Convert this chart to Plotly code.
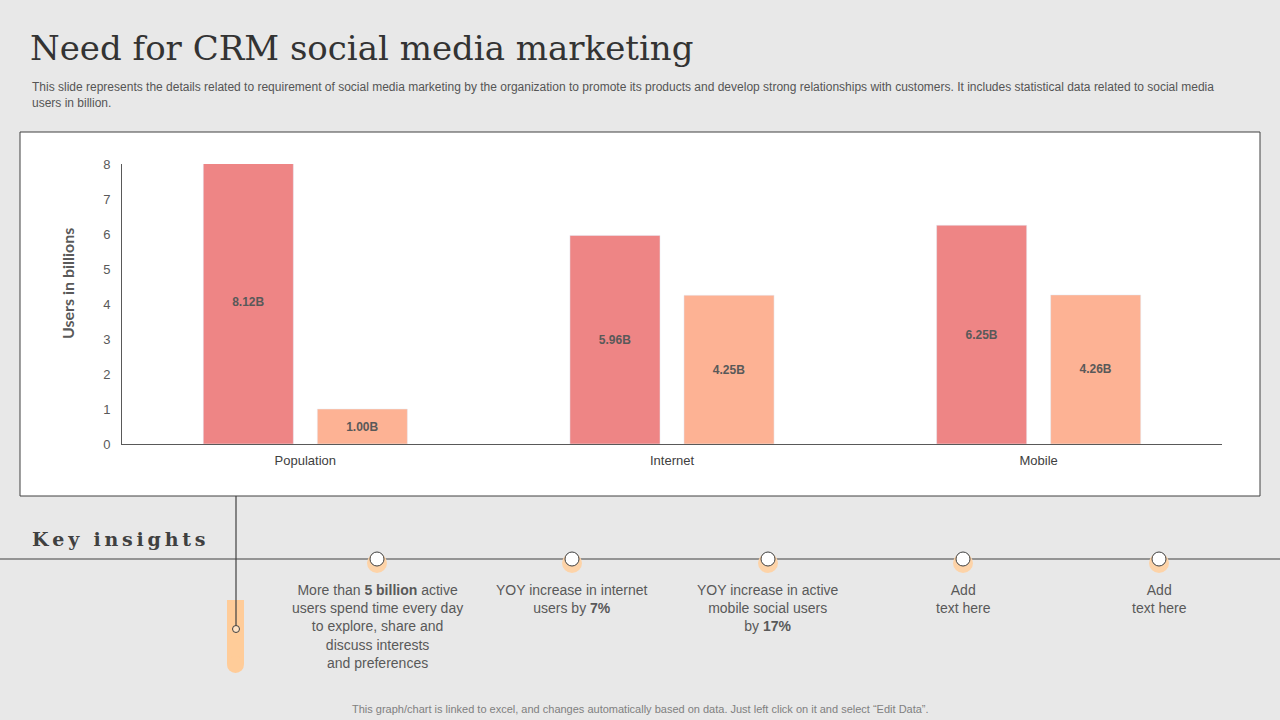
import plotly.graph_objects as go

# ---------------- data ----------------
categories = ["Population", "Internet", "Mobile"]
series_a = [8.12, 5.96, 6.25]
series_b = [1.00, 4.25, 4.26]
y_ticks = [0, 1, 2, 3, 4, 5, 6, 7, 8]

insight_texts = [
    "More than <b>5 billion</b> active<br>users spend time every day<br>to explore, share and<br>discuss interests<br>and preferences",
    "YOY increase in internet<br>users by <b>7%</b>",
    "YOY increase in active<br>mobile social users<br>by <b>17%</b>",
    "Add<br>text here",
    "Add<br>text here",
]

W, H = 1280, 720
def px(x):
    return x / W
def py(y):
    return 1 - y / H

BG = "#E8E8E8"
C_A = "#EE8585"
C_B = "#FDB294"
TXT = "#595959"

fig = go.Figure()
fig.add_trace(go.Bar(
    x=categories, y=series_a, marker_color=C_A,
    text=[f"{v:.2f}B" for v in series_a], textposition="inside",
    insidetextanchor="middle", textangle=0,
    textfont=dict(family="Liberation Sans", size=12, color=TXT, weight="bold"),
    hoverinfo="skip", showlegend=False,
))
fig.add_trace(go.Bar(
    x=categories, y=series_b, marker_color=C_B,
    text=[f"{v:.2f}B" for v in series_b], textposition="inside",
    insidetextanchor="middle", textangle=0,
    textfont=dict(family="Liberation Sans", size=12, color=TXT, weight="bold"),
    hoverinfo="skip", showlegend=False,
))

shapes = []
shapes.append(dict(type="rect", xref="paper", yref="paper", layer="below",
                   x0=px(20), x1=px(1260), y0=py(496), y1=py(132),
                   fillcolor="white", line=dict(color="#404040", width=1)))
shapes.append(dict(type="line", xref="paper", yref="paper",
                   x0=0, x1=1, y0=py(559), y1=py(559),
                   line=dict(color="#404040", width=1.2)))
shapes.append(dict(type="rect", xref="paper", yref="paper",
                   x0=px(227), x1=px(244), y0=py(664), y1=py(600),
                   fillcolor="#FFCC99", line=dict(width=0)))
shapes.append(dict(type="circle", xref="paper", yref="paper",
                   x0=px(227), x1=px(244), y0=py(673), y1=py(656),
                   fillcolor="#FFCC99", line=dict(width=0)))
shapes.append(dict(type="line", xref="paper", yref="paper",
                   x0=px(236), x1=px(236), y0=py(496), y1=py(626),
                   line=dict(color="#404040", width=1.2)))
shapes.append(dict(type="circle", xref="paper", yref="paper",
                   x0=px(232.5), x1=px(239.5), y0=py(632.5), y1=py(625.5),
                   fillcolor="#FFE2C4", line=dict(color="#404040", width=1)))

insight_x = [377, 572, 768, 963, 1159]
for cx in insight_x:
    shapes.append(dict(type="circle", xref="paper", yref="paper",
                       x0=px(cx - 10), x1=px(cx + 10), y0=py(573), y1=py(553),
                       fillcolor="#FDD3A8", line=dict(width=0)))
    shapes.append(dict(type="circle", xref="paper", yref="paper",
                       x0=px(cx - 7), x1=px(cx + 7), y0=py(566), y1=py(552),
                       fillcolor="white", line=dict(color="#404040", width=1)))

ts = "\u2009"
key_title = ts.join("Key") + ts + " " + ts + ts.join("insights")

annotations = []
annotations.append(dict(xref="paper", yref="paper", x=px(28), y=py(48),
                        xanchor="left", yanchor="middle", showarrow=False,
                        text="Need for CRM social media marketing",
                        font=dict(family="DejaVu Serif", size=34, color="#333333")))
annotations.append(dict(xref="paper", yref="paper", x=px(30), y=py(78),
                        xanchor="left", yanchor="top", showarrow=False, align="left",
                        text="This slide represents the details related to requirement of social media marketing by the organization to promote its products and develop strong relationships with customers. It includes statistical data related to social media<br>users in billion.",
                        font=dict(family="Liberation Sans", size=12, color="#555555")))
annotations.append(dict(xref="paper", yref="paper", x=px(68), y=py(284),
                        xanchor="center", yanchor="middle", showarrow=False, textangle=-90,
                        text="<b>Users in billions</b>",
                        font=dict(family="Lato, Liberation Sans", size=16, color=TXT)))
annotations.append(dict(xref="paper", yref="paper", x=px(30), y=py(539),
                        xanchor="left", yanchor="middle", showarrow=False,
                        text="<b>" + key_title + "</b>",
                        font=dict(family="DejaVu Serif", size=19, color="#404040")))
for cx, t in zip(insight_x, insight_texts):
    annotations.append(dict(xref="paper", yref="paper", x=px(cx), y=py(580),
                            xanchor="center", yanchor="top", showarrow=False, align="center",
                            text=t, font=dict(family="Liberation Sans", size=14, color=TXT)))
annotations.append(dict(xref="paper", yref="paper", x=px(640), y=py(709),
                        xanchor="center", yanchor="middle", showarrow=False,
                        text="This graph/chart is linked to excel, and changes automatically based on data. Just left click on it and select “Edit Data”.",
                        font=dict(family="Liberation Sans", size=11, color="#808080")))

fig.update_layout(
    width=W, height=H, autosize=False,
    margin=dict(l=0, r=0, t=0, b=0, pad=0, autoexpand=False),
    paper_bgcolor=BG, plot_bgcolor="rgba(0,0,0,0)",
    barmode="group", bargap=0.378, bargroupgap=0.21,
    shapes=shapes, annotations=annotations,
    xaxis=dict(domain=[px(122), px(1222)], showline=True, linecolor="#595959", linewidth=1,
               showgrid=False, ticks="", automargin=False, ticklabelstandoff=4,
               tickfont=dict(family="Liberation Sans", size=13, color="#404040"),
               fixedrange=True),
    yaxis=dict(domain=[py(444), py(164)], range=[0, 8], tickvals=y_ticks, automargin=False,
               showline=True, linecolor="#595959", linewidth=1, showgrid=False, zeroline=False,
               ticks="", ticklabelstandoff=8,
               tickfont=dict(family="Liberation Sans", size=13, color=TXT),
               fixedrange=True),
)

css = ("var s='margin:0;padding:0;overflow:hidden;width:1280px;height:720px;background:#E8E8E8';"
       "document.documentElement.style.cssText=s;document.body.style.cssText=s;")
fig.write_html("out.html", config={"displayModeBar": False, "responsive": False},
               default_width="1280px", default_height="720px", post_script=css)
